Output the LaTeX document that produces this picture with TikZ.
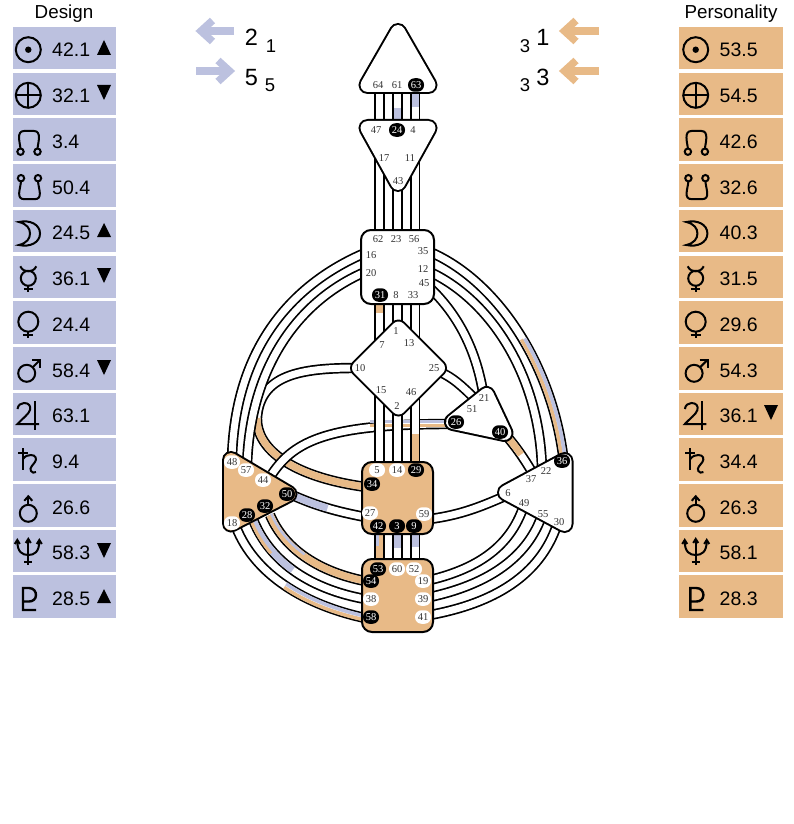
\documentclass[tikz,border=0pt]{standalone}
\usepackage{fontspec}
\setmainfont{Liberation Sans}
\newfontfamily\gatefont{Liberation Serif}
\definecolor{designblue}{RGB}{188,193,223}
\definecolor{personorange}{RGB}{232,186,135}
\tikzset{
	title/.style={font=\fontsize{18.8}{20}\selectfont,anchor=base},
	value/.style={font=\fontsize{19.5}{20}\selectfont,anchor=base west,inner sep=0pt},
	bignum/.style={font=\fontsize{23.5}{24}\selectfont,anchor=base,inner sep=0pt},
	smallnum/.style={font=\fontsize{18.5}{20}\selectfont,anchor=base,inner sep=0pt},
	pointer/.style={line width=7.5pt},
	channel/.style={draw=black,line width=1.7pt,double=white,double distance=7pt},
	fillfull/.style={line width=7pt},
	fillhalf/.style={line width=3.5pt},
	hull/.style={draw=black,line width=2pt,line join=round,double=#1,double distance=14pt,postaction={fill=#1}},
	square/.style={draw=black,line width=2pt,rounded corners=10pt,fill=#1},
	gate/.style={font=\gatefont\fontsize{10.5}{10}\selectfont,text=black!80,inner sep=0pt},
	gateon/.style={gate,text=white,fill=black,rounded corners=6.5pt,minimum width=16pt,minimum height=13.5pt},
	gateoff/.style={gate,fill=white,rounded corners=6.5pt,minimum width=16pt,minimum height=13.5pt},
	glyphline/.style={line width=2pt},
	sunicon/.pic={\draw[glyphline] (0,0) circle[radius=12.5]; \fill (0,0) circle[radius=3.2];},
	earthicon/.pic={\draw[glyphline] (0,0) circle[radius=12.5]; \draw[glyphline] (-12.5,0) -- (12.5,0); \draw[glyphline] (0,-12.5) -- (0,12.5);},
	northicon/.pic={\draw[glyphline] (-8.5,7.7) .. controls (-9,2) and (-13,-10) .. (-5,-10) -- (5,-10) .. controls (13,-10) and (9,2) .. (8.5,7.7); \draw[glyphline] (-8.5,10.7) circle[radius=3.2]; \draw[glyphline] (8.5,10.7) circle[radius=3.2];},
	southicon/.pic={\draw[glyphline] (-8.5,-7.5) .. controls (-9,0) and (-14,10.5) .. (-5,10.5) -- (5,10.5) .. controls (14,10.5) and (9,0) .. (8.5,-7.5); \draw[glyphline] (-8.5,-10.5) circle[radius=3.2]; \draw[glyphline] (8.5,-10.5) circle[radius=3.2];},
	moonicon/.pic={\draw[glyphline] (-9,-11.5) .. controls (2,-14) and (12,-9) .. (12,0) .. controls (12,9) and (2,14) .. (-9,11.5) .. controls (-1,9.5) and (2,5) .. (2,0) .. controls (2,-5) and (-1,-9.5) .. (-9,-11.5) -- cycle;},
	mercuryicon/.pic={\draw[glyphline] (-8,-12) .. controls (-6,-8) and (-3,-7) .. (0,-7) .. controls (3,-7) and (6,-8) .. (8,-12); \draw[glyphline] (0,0) circle[radius=7.5]; \draw[glyphline] (0,7.5) -- (0,14); \draw[glyphline] (-4.5,10.5) -- (4.5,10.5);},
	venusicon/.pic={\draw[glyphline] (0,0) circle[radius=10]; \draw[glyphline] (0,10) -- (0,16.5); \draw[glyphline] (-5,13.5) -- (5,13.5);},
	marsicon/.pic={\draw[glyphline] (0,0) circle[radius=8.5]; \draw[glyphline] (6,-6) -- (13.5,-13.5); \draw[glyphline] (5.5,-13.5) -- (13.5,-13.5) -- (13.5,-5.5);},
	jupitericon/.pic={\draw[glyphline] (-10.5,-5) .. controls (-10,-9) and (-7,-11) .. (-4,-11) .. controls (1,-11) and (3,-8) .. (2,-4) .. controls (1,0) and (-6,5) .. (-10.5,10) -- (11,10); \draw[glyphline] (7,-13) -- (7,16);},
	saturnicon/.pic={\draw[glyphline] (-5,-12) -- (-5,10); \draw[glyphline] (-10,-7) -- (0,-7); \draw[glyphline] (-5,-1) .. controls (-3,-4) and (0,-5) .. (3,-5) .. controls (8,-5) and (9,-1) .. (7,2) .. controls (5,5) and (1,8) .. (3,11) .. controls (4,13) and (6,13) .. (8,12);},
	uranusicon/.pic={\draw[glyphline] (0,0) circle[radius=8.5]; \draw[glyphline] (0,-8.5) -- (0,-16); \draw[glyphline] (-4,-12.5) -- (0,-17) -- (4,-12.5);},
	neptuneicon/.pic={\draw[glyphline] (0,-12) -- (0,14); \draw[glyphline] (-11,-10) .. controls (-11,1) and (-6,4) .. (0,4) .. controls (6,4) and (11,1) .. (11,-10); \draw[glyphline] (-4,11) -- (4,11); \draw[glyphline] (-13.5,-7) -- (-11,-11) -- (-8.5,-7); \draw[glyphline] (-2.5,-8) -- (0,-12) -- (2.5,-8); \draw[glyphline] (8.5,-7) -- (11,-11) -- (13.5,-7);},
	plutoicon/.pic={\draw[line width=2.4pt] (8,13) -- (-5,13) -- (-5,-9) -- (1,-9) .. controls (6,-9) and (8,-5) .. (8,-2) .. controls (8,2) and (5,4.5) .. (1,4.5) -- (-5,4.5);}
}
\begin{document}
\begin{tikzpicture}[x=1pt,y=-1pt]
		\useasboundingbox (0,0) rectangle (794,824);

		% panels
		\node[title] (designtitle) at (64,19) {Design};
		\node[title] (persontitle) at (731,19) {Personality};

		\fill[designblue] (12.5,27) rectangle (115.5,69.5);
		\fill[designblue] (12.5,72.7) rectangle (115.5,115.2);
		\fill[designblue] (12.5,118.4) rectangle (115.5,160.9);
		\fill[designblue] (12.5,164) rectangle (115.5,206.5);
		\fill[designblue] (12.5,209.8) rectangle (115.5,252.3);
		\fill[designblue] (12.5,255.5) rectangle (115.5,298);
		\fill[designblue] (12.5,301) rectangle (115.5,343.5);
		\fill[designblue] (12.5,347) rectangle (115.5,389.5);
		\fill[designblue] (12.5,392.5) rectangle (115.5,435);
		\fill[designblue] (12.5,438) rectangle (115.5,480.5);
		\fill[designblue] (12.5,484) rectangle (115.5,526.5);
		\fill[designblue] (12.5,529.5) rectangle (115.5,572);
		\fill[designblue] (12.5,575) rectangle (115.5,617.5);

		\fill[personorange] (679,27) rectangle (783,69.5);
		\fill[personorange] (679,72.7) rectangle (783,115.2);
		\fill[personorange] (679,118.4) rectangle (783,160.9);
		\fill[personorange] (679,164) rectangle (783,206.5);
		\fill[personorange] (679,209.8) rectangle (783,252.3);
		\fill[personorange] (679,255.5) rectangle (783,298);
		\fill[personorange] (679,301) rectangle (783,343.5);
		\fill[personorange] (679,347) rectangle (783,389.5);
		\fill[personorange] (679,392.5) rectangle (783,435);
		\fill[personorange] (679,438) rectangle (783,480.5);
		\fill[personorange] (679,484) rectangle (783,526.5);
		\fill[personorange] (679,529.5) rectangle (783,572);
		\fill[personorange] (679,575) rectangle (783,617.5);

		\pic at (28.3,49.7) {sunicon};
		\pic at (28.3,95.3) {earthicon};
		\pic at (29,141) {northicon};
		\pic at (29.5,188.7) {southicon};
		\pic at (28,233.5) {moonicon};
		\pic at (28.3,278.3) {mercuryicon};
		\pic at (28.3,321.7) {venusicon};
		\pic at (26.7,373.3) {marsicon};
		\pic at (28,414) {jupitericon};
		\pic at (28,460) {saturnicon};
		\pic at (28.3,513.3) {uranusicon};
		\pic at (28.3,551) {neptuneicon};
		\pic at (28,597) {plutoicon};

		\node[value] (dsunval) at (52,57) {42.1};
		\node[value] (dearthval) at (52,102.7) {32.1};
		\node[value] (dnorthval) at (52,148.4) {3.4};
		\node[value] (dsouthval) at (52,194) {50.4};
		\node[value] (dmoonval) at (52,239.8) {24.5};
		\node[value] (dmercuryval) at (52,285.5) {36.1};
		\node[value] (dvenusval) at (52,331) {24.4};
		\node[value] (dmarsval) at (52,377) {58.4};
		\node[value] (djupiterval) at (52,422.5) {63.1};
		\node[value] (dsaturnval) at (52,468) {9.4};
		\node[value] (duranusval) at (52,514) {26.6};
		\node[value] (dneptuneval) at (52,559.5) {58.3};
		\node[value] (dplutoval) at (52,605) {28.5};

		\fill (97,55) -- (104,40) -- (111,55) -- cycle;
		\fill (97,85) -- (104,100) -- (111,85) -- cycle;
		\fill (97,237) -- (104,223) -- (111,237) -- cycle;
		\fill (97,268) -- (104,283) -- (111,268) -- cycle;
		\fill (97,360) -- (104,375) -- (111,360) -- cycle;
		\fill (97,543) -- (104,558) -- (111,543) -- cycle;
		\fill (97,603) -- (104,589) -- (111,603) -- cycle;

		\pic at (695.7,49.7) {sunicon};
		\pic at (695.7,95.3) {earthicon};
		\pic at (696.4,141) {northicon};
		\pic at (696.9,188.7) {southicon};
		\pic at (695.4,233.5) {moonicon};
		\pic at (695.7,278.3) {mercuryicon};
		\pic at (695.7,321.7) {venusicon};
		\pic at (694.1,373.3) {marsicon};
		\pic at (695.4,414) {jupitericon};
		\pic at (695.4,460) {saturnicon};
		\pic at (695.7,513.3) {uranusicon};
		\pic at (695.7,551) {neptuneicon};
		\pic at (695.4,597) {plutoicon};

		\node[value] (psunval) at (719.5,57) {53.5};
		\node[value] (pearthval) at (719.5,102.7) {54.5};
		\node[value] (pnorthval) at (719.5,148.4) {42.6};
		\node[value] (psouthval) at (719.5,194) {32.6};
		\node[value] (pmoonval) at (719.5,239.8) {40.3};
		\node[value] (pmercuryval) at (719.5,285.5) {31.5};
		\node[value] (pvenusval) at (719.5,331) {29.6};
		\node[value] (pmarsval) at (719.5,377) {54.3};
		\node[value] (pjupiterval) at (719.5,422.5) {36.1};
		\node[value] (psaturnval) at (719.5,468) {34.4};
		\node[value] (puranusval) at (719.5,514) {26.3};
		\node[value] (pneptuneval) at (719.5,559.5) {58.1};
		\node[value] (pplutoval) at (719.5,605) {28.3};

		\fill (764,405) -- (771,420) -- (778,405) -- cycle;

		% arrows
		\draw[pointer,designblue] (234,31) -- (201,31);
		\draw[pointer,designblue] (212.5,20.5) -- (201,31) -- (212.5,41.5);
		\draw[pointer,designblue] (196,71) -- (229.5,71);
		\draw[pointer,designblue] (218,60.5) -- (229.5,71) -- (218,81.5);
		\draw[pointer,personorange] (599,31) -- (564.5,31);
		\draw[pointer,personorange] (576,20.5) -- (564.5,31) -- (576,41.5);
		\draw[pointer,personorange] (599,71) -- (564.5,71);
		\draw[pointer,personorange] (576,60.5) -- (564.5,71) -- (576,81.5);

		\node[bignum] (dtopnum) at (251.5,46) {2};
		\node[smallnum] (dtopsub) at (271,52.5) {1};
		\node[bignum] (dbotnum) at (251.5,86) {5};
		\node[smallnum] (dbotsub) at (270,92) {5};
		\node[bignum] (ptopnum) at (543,46) {1};
		\node[smallnum] (ptopsub) at (525,52.5) {3};
		\node[bignum] (pbotnum) at (543,86) {3};
		\node[smallnum] (pbotsub) at (525,92) {3};

		% channel ends
		\coordinate (p64) at (379.5,85);
		\coordinate (p61) at (397.5,85);
		\coordinate (p63) at (415,85);
		\coordinate (p47) at (379.5,130);
		\coordinate (p24) at (397.5,130);
		\coordinate (p4) at (415,130);
		\coordinate (p17) at (379.5,150);
		\coordinate (p43) at (397.5,170);
		\coordinate (p11) at (415,150);
		\coordinate (p62) at (379.5,240);
		\coordinate (p23) at (397.5,240);
		\coordinate (p56) at (415,240);
		\coordinate (p31) at (379.5,298);
		\coordinate (p8) at (397.5,298);
		\coordinate (p33) at (415,298);
		\coordinate (p7) at (379.5,350);
		\coordinate (p1) at (397.5,335);
		\coordinate (p13) at (415,350);
		\coordinate (p15) at (379.5,390);
		\coordinate (p2) at (397.5,400);
		\coordinate (p46) at (415,390);
		\coordinate (p5) at (379.5,470);
		\coordinate (p14) at (397.5,470);
		\coordinate (p29) at (415,470);
		\coordinate (p42) at (379.5,526);
		\coordinate (p3) at (397.5,526);
		\coordinate (p9) at (415,526);
		\coordinate (p53) at (379.5,569);
		\coordinate (p60) at (397.5,569);
		\coordinate (p52) at (415,569);
		\coordinate (p16) at (365,253);
		\coordinate (p48) at (232,458);
		\coordinate (p20) at (365,272);
		\coordinate (p57) at (247,466);
		\coordinate (p10) at (356,368);
		\coordinate (p34) at (366,487);
		\coordinate (pbend) at (257,418);
		\coordinate (p44) at (272,474);
		\coordinate (p26) at (450,424);
		\coordinate (p50) at (290,494);
		\coordinate (p27) at (365,517);
		\coordinate (p59) at (430,519);
		\coordinate (p6) at (503,497);
		\coordinate (p32) at (270,515);
		\coordinate (p54) at (365,581);
		\coordinate (p28) at (252,517);
		\coordinate (p38) at (365,599);
		\coordinate (p18) at (236,527);
		\coordinate (p58) at (365,618);
		\coordinate (p19) at (430,580);
		\coordinate (p49) at (523,508);
		\coordinate (p39) at (430,597);
		\coordinate (p55) at (541,518);
		\coordinate (p41) at (430,615);
		\coordinate (p30) at (557,525);
		\coordinate (p35) at (430,252);
		\coordinate (p36) at (563,455);
		\coordinate (p12) at (430,272);
		\coordinate (p22) at (542,470);
		\coordinate (p45) at (430,288);
		\coordinate (p21) at (483,392);
		\coordinate (p25) at (440,372);
		\coordinate (p51) at (474,398);
		\coordinate (p40) at (503,432);
		\coordinate (p37) at (532,472);

		% channels, left
		\draw[channel] (p10) .. controls (300,368) and (260,375) .. (pbend) .. controls (256,445) and (285,476) .. (p34);
		\draw[personorange,fillfull] (pbend) .. controls (256,445) and (285,476) .. (p34);
		\draw[channel] (p16) .. controls (290,285) and (235,350) .. (p48);
		\draw[channel] (p20) .. controls (300,300) and (250,365) .. (p57);
		\draw[channel] (p44) .. controls (295,440) and (330,424) .. (p26);
		\draw[designblue,fillhalf] (370,421.7) -- (447,421.7);
		\draw[personorange,fillhalf] (370,425.3) -- (447,425.3);
		\draw[channel] (p50) .. controls (320,508) and (345,513) .. (p27);
		\draw[designblue,fillfull] (p50) .. controls (303.5,500.3) and (316,504.8) .. (327.5,508);
		\draw[channel] (p32) .. controls (285,550) and (320,572) .. (p54);
		\draw[personorange,fillfull] (p32) .. controls (285,550) and (320,572) .. (p54);
		\draw[designblue,line width=2.5pt] (271.3,513.7) .. controls (278.3,530.2) and (289.8,543.7) .. (304.6,554.4);
		\draw[channel] (p28) .. controls (270,565) and (315,590) .. (p38);
		\draw[designblue,fillfull] (p28) .. controls (260.5,539.6) and (274.8,557) .. (292.7,570);
		\draw[personorange,line width=3pt] (250.2,518.4) .. controls (255.2,531.8) and (262.4,543.4) .. (271,553.4);
		\draw[channel] (p18) .. controls (255,575) and (305,605) .. (p58);
		\draw[personorange,fillhalf] (284.1,587.3) .. controls (306.5,602.45) and (334,613.2) .. (364,619.7);
		\draw[designblue,fillhalf] (286.1,583.9) .. controls (308.5,599.05) and (336,609.8) .. (366,616.3);

		% channels, right
		\draw[channel] (p59) .. controls (460,515) and (480,507) .. (p6);
		\draw[channel] (p19) .. controls (480,568) and (510,545) .. (p49);
		\draw[channel] (p39) .. controls (485,585) and (525,560) .. (p55);
		\draw[channel] (p41) .. controls (495,603) and (540,575) .. (p30);
		\draw[channel] (p35) .. controls (495,280) and (550,360) .. (p36);
		\draw[personorange,fillhalf] (521.3,339.5) .. controls (541.1,373) and (555.4,412.5) .. (561.3,455);
		\draw[designblue,fillhalf] (524.7,338.5) .. controls (544.5,372) and (558.8,412) .. (564.7,455);
		\draw[channel] (p12) .. controls (490,300) and (540,375) .. (p22);
		\draw[channel] (p45) .. controls (455,312) and (475,345) .. (p21);
		\draw[channel] (p25) .. controls (452,377) and (462,386) .. (p51);
		\draw[channel] (p40) .. controls (515,445) and (525,460) .. (p37);
		\draw[personorange,fillfull] (p40) .. controls (509.6,439) and (515.7,447) .. (521,454.5);

		% channels, middle
		\draw[channel] (p64) -- (p47);
		\draw[channel] (p61) -- (p24);
		\draw[designblue,fillfull] (397.5,108) -- (397.5,122);
		\draw[channel] (p63) -- (p4);
		\draw[designblue,fillfull] (415,92) -- (415,107);
		\draw[channel] (p17) -- (p62);
		\draw[channel] (p43) -- (p23);
		\draw[channel] (p11) -- (p56);
		\draw[channel] (p31) -- (p7);
		\draw[personorange,fillfull] (379.5,302) -- (379.5,313);
		\draw[channel] (p8) -- (p1);
		\draw[channel] (p33) -- (p13);
		\draw[channel] (p15) -- (p5);
		\draw[channel] (p2) -- (p14);
		\draw[channel] (p46) -- (p29);
		\draw[personorange,fillfull] (415,434) -- (415,464);
		\draw[channel] (p42) -- (p53);
		\draw[personorange,fillfull] (379.5,532) -- (379.5,561);
		\draw[designblue,fillhalf] (377.7,532) -- (377.7,546);
		\draw[channel] (p3) -- (p60);
		\draw[designblue,fillfull] (397.5,532) -- (397.5,548);
		\draw[channel] (p9) -- (p52);
		\draw[designblue,fillfull] (415,532) -- (415,547);

		% centers
		\draw[hull=white] (398,32) -- (428.5,85) -- (367.5,85) -- cycle;
		\draw[hull=white] (367.5,128) -- (428.5,128) -- (398,183) -- cycle;
		\draw[square=white] (361,230) rectangle (434,304);
		\draw[hull=white] (398.5,328.5) -- (438,368) -- (398.5,407.5) -- (359,368) -- cycle;
		\draw[hull=white] (486.6,395) -- (504.5,433) -- (453,422) -- cycle;
		\draw[hull=personorange] (231,460) -- (288.5,494) -- (231,523.5) -- cycle;
		\draw[square=personorange] (362,462) rectangle (433,534);
		\draw[square=personorange] (362,559) rectangle (433,632);
		\draw[hull=white] (564.5,461) -- (564.5,524) -- (506,492.5) -- cycle;

		% gates
		\node[gate] (g64) at (378,85) {64};
		\node[gate] (g61) at (397,85) {61};
		\node[gateon] (g63) at (416,85) {63};

		\node[gate] (g47) at (376,130) {47};
		\node[gateon] (g24) at (397,130) {24};
		\node[gate] (g4) at (413,130) {4};
		\node[gate] (g17) at (384,158) {17};
		\node[gate] (g11) at (410,158) {11};
		\node[gate] (g43) at (398,181) {43};

		\node[gate] (g62) at (378,239) {62};
		\node[gate] (g23) at (396,239) {23};
		\node[gate] (g56) at (414,239) {56};
		\node[gate] (g35) at (423,251) {35};
		\node[gate] (g16) at (371,255) {16};
		\node[gate] (g12) at (423,269) {12};
		\node[gate] (g20) at (371,273) {20};
		\node[gate] (g45) at (424,283) {45};
		\node[gateon] (g31) at (380,295) {31};
		\node[gate] (g8) at (396,295) {8};
		\node[gate] (g33) at (413,295) {33};

		\node[gate] (g1) at (396,331) {1};
		\node[gate] (g7) at (382,345) {7};
		\node[gate] (g13) at (409,343) {13};
		\node[gate] (g10) at (360,368) {10};
		\node[gate] (g25) at (434,368) {25};
		\node[gate] (g15) at (381,390) {15};
		\node[gate] (g46) at (411,392) {46};
		\node[gate] (g2) at (397,406) {2};

		\node[gate] (g21) at (484,398) {21};
		\node[gate] (g51) at (472,409) {51};
		\node[gateon] (g26) at (456,422) {26};
		\node[gateon] (g40) at (500,432) {40};

		\node[gateoff] (g5) at (377,470) {5};
		\node[gateoff] (g14) at (397,470) {14};
		\node[gateon] (g29) at (416,470) {29};
		\node[gateon] (g34) at (372,484) {34};
		\node[gateoff] (g27) at (370,513) {27};
		\node[gateoff] (g59) at (424,514) {59};
		\node[gateon] (g42) at (378,526) {42};
		\node[gateon] (g3) at (397,526) {3};
		\node[gateon] (g9) at (414,526) {9};

		\node[gateon] (g53) at (378,569) {53};
		\node[gateoff] (g60) at (397,569) {60};
		\node[gateoff] (g52) at (414,569) {52};
		\node[gateon] (g54) at (371,581) {54};
		\node[gateoff] (g19) at (423,581) {19};
		\node[gateoff] (g38) at (371,599) {38};
		\node[gateoff] (g39) at (423,599) {39};
		\node[gateon] (g58) at (371,617) {58};
		\node[gateoff] (g41) at (423,617) {41};

		\node[gateoff] (g48) at (232,462) {48};
		\node[gateoff] (g57) at (246,470) {57};
		\node[gateoff] (g44) at (263,480) {44};
		\node[gateon] (g50) at (287,494) {50};
		\node[gateon] (g32) at (265,506) {32};
		\node[gateon] (g28) at (247,515) {28};
		\node[gateoff] (g18) at (232,523) {18};

		\node[gateon] (g36) at (562,461) {36};
		\node[gate] (g22) at (546,471) {22};
		\node[gate] (g37) at (531,479) {37};
		\node[gate] (g6) at (508,493) {6};
		\node[gate] (g49) at (524,503) {49};
		\node[gate] (g55) at (543,514) {55};
		\node[gate] (g30) at (559,522) {30};
	\end{tikzpicture}
\end{document}
